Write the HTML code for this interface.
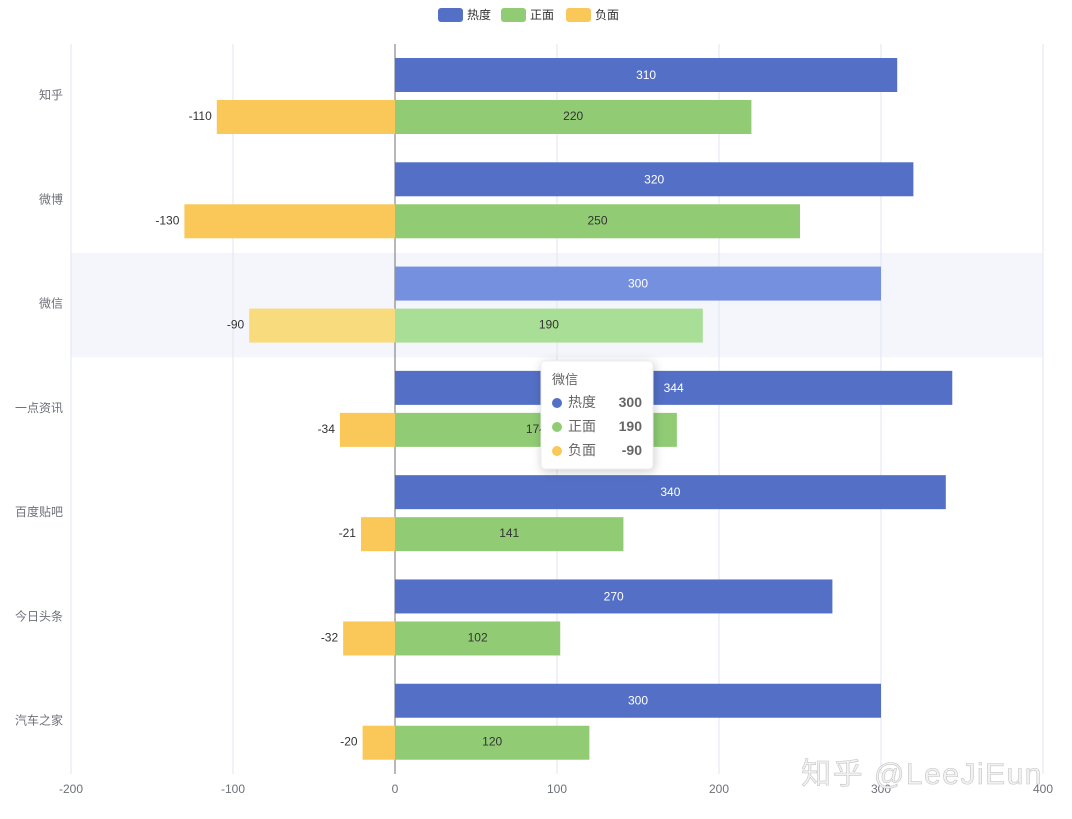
<!DOCTYPE html>
<html><head><meta charset="utf-8"><style>
body{margin:0;background:#fff;}
svg{display:block;font-family:"Liberation Sans","Noto Sans CJK SC",sans-serif;}
</style></head><body>
<svg id="c" width="1072" height="819" xmlns="http://www.w3.org/2000/svg"></svg>
<script>
const s=document.getElementById('c');
let h='';
const X=v=>395+v*1.62;
h+='<rect x="71" y="253" width="972" height="104.3" fill="#f4f6fb"/>';
for(let v=-200;v<=400;v+=100){const x=X(v);
 h+=`<line x1="${x}" y1="44" x2="${x}" y2="774" stroke="${v==0?'#6e7079':'#e0e6f1'}" stroke-width="1"/>`;
 h+=`<text x="${x}" y="793" font-size="12" fill="#6e7079" text-anchor="middle">${v}</text>`;}
const cats=['知乎','微博','微信','一点资讯','百度贴吧','今日头条','汽车之家'];
const B=[310,320,300,344,340,270,300],G=[220,250,190,174,141,102,120],Y=[-110,-130,-90,-34,-21,-32,-20];
for(let i=0;i<7;i++){const t=44+i*104.29;const em=i==2;
 const cb=em?'#7590de':'#5470c6',cg=em?'#a8de96':'#91cc75',cy=em?'#f7db7c':'#fac858';
 h+=`<text x="63" y="${t+55}" font-size="12" fill="#6e7079" text-anchor="end">${cats[i]}</text>`;
 h+=`<rect x="395" y="${t+14}" width="${B[i]*1.62}" height="34" fill="${cb}"/>`;
 h+=`<text x="${X(B[i]/2)}" y="${t+35}" font-size="12" fill="#fff" text-anchor="middle">${B[i]}</text>`;
 h+=`<rect x="395" y="${t+56}" width="${G[i]*1.62}" height="34" fill="${cg}"/>`;
 h+=`<text x="${X(G[i]/2)}" y="${t+76}" font-size="12" fill="#333" text-anchor="middle">${G[i]}</text>`;
 h+=`<rect x="${X(Y[i])}" y="${t+56}" width="${-Y[i]*1.62}" height="34" fill="${cy}"/>`;
 h+=`<text x="${X(Y[i])-5}" y="${t+76}" font-size="12" fill="#333" text-anchor="end">${Y[i]}</text>`;}
const lg=[[438,'#5470c6','热度'],[501,'#91cc75','正面'],[566,'#fac858','负面']];
for(const [x,c,t] of lg){h+=`<rect x="${x}" y="8" width="25" height="14" rx="3" fill="${c}"/><text x="${x+29}" y="19" font-size="12" fill="#333">${t}</text>`;}
h+='<text x="1043" y="784" font-size="30" letter-spacing="1.5" fill="#f2f2f2" stroke="#c4c4c4" stroke-width="0.6" text-anchor="end">知乎 @LeeJiEun</text>';
h+='<rect x="541" y="361" width="112" height="108" rx="4" fill="#fff" stroke="#eee" style="filter:drop-shadow(1px 2px 5px rgba(0,0,0,0.2))"/>';
h+='<text x="552" y="384" font-size="13" fill="#666">微信</text>';
const tt=[['#5470c6','热度','300'],['#91cc75','正面','190'],['#fac858','负面','-90']];
tt.forEach((r,k)=>{const y=407+k*24;
 h+=`<circle cx="557" cy="${y-4}" r="5" fill="${r[0]}"/><text x="568" y="${y}" font-size="14" fill="#666">${r[1]}</text><text x="642" y="${y}" font-size="14" font-weight="bold" fill="#666" text-anchor="end">${r[2]}</text>`;});
s.innerHTML=h;
</script>
</body></html>
